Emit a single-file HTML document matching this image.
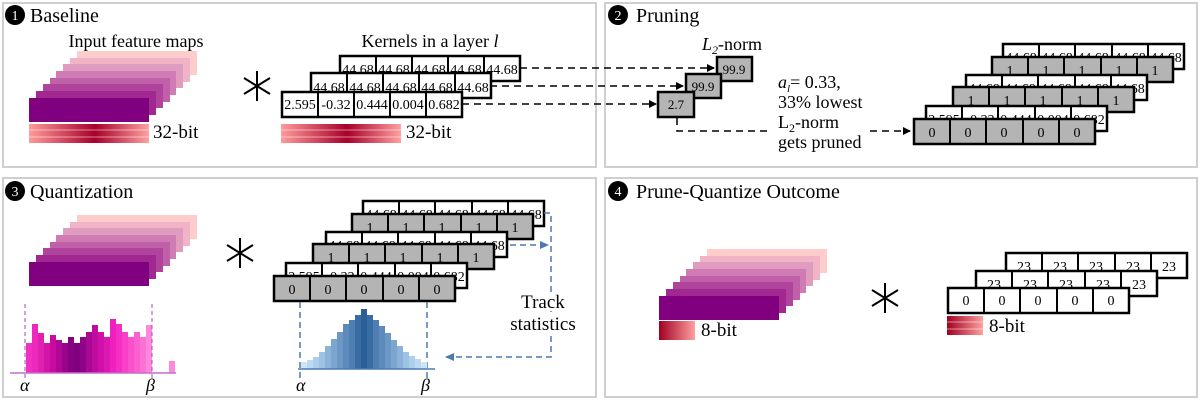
<!DOCTYPE html>
<html><head><meta charset="utf-8"><style>
html,body{margin:0;padding:0;background:#fff;}
svg{display:block;font-family:"Liberation Serif",serif;}
</style></head><body>
<svg width="1200" height="400" viewBox="0 0 1200 400" xmlns="http://www.w3.org/2000/svg">
<defs>
<linearGradient id="g32" x1="0" x2="1"><stop offset="0" stop-color="#ff9a9a"/><stop offset="0.55" stop-color="#a8002a"/><stop offset="1" stop-color="#ffa0a0"/></linearGradient>
<linearGradient id="g8" x1="0" x2="1"><stop offset="0" stop-color="#a00020"/><stop offset="1" stop-color="#ffa0a0"/></linearGradient>
<marker id="ah" markerWidth="8" markerHeight="8" refX="7" refY="4" orient="auto" markerUnits="userSpaceOnUse"><path d="M0,0 L8,4 L0,8 z" fill="#000"/></marker>
<marker id="ahb" markerWidth="9" markerHeight="8" refX="8" refY="4" orient="auto" markerUnits="userSpaceOnUse"><path d="M0,0 L9,4 L0,8 z" fill="#4a7ab0"/></marker>
</defs>

<!-- panels -->
<g fill="none" stroke="#cfcfcf" stroke-width="2">
<rect x="3" y="3" width="593" height="164"/>
<rect x="605" y="3" width="592" height="164"/>
<rect x="3" y="178" width="593" height="219"/>
<rect x="605" y="178" width="592" height="219"/>
</g>
<g font-size="20">
<circle cx="15" cy="15" r="10"/><text x="15" y="20" fill="#fff" font-size="14" text-anchor="middle">1</text><text x="30" y="22">Baseline</text>
<circle cx="618" cy="15" r="10"/><text x="618" y="20" fill="#fff" font-size="14" text-anchor="middle">2</text><text x="636" y="22">Pruning</text>
<circle cx="15" cy="191" r="10"/><text x="15" y="196" fill="#fff" font-size="14" text-anchor="middle">3</text><text x="30" y="198">Quantization</text>
<circle cx="618" cy="191" r="10"/><text x="618" y="196" fill="#fff" font-size="14" text-anchor="middle">4</text><text x="636" y="198">Prune-Quantize Outcome</text>
</g>

<!-- Panel 1 -->
<text x="136" y="47" font-size="18" text-anchor="middle">Input feature maps</text>
<text x="430" y="47" font-size="18" text-anchor="middle">Kernels in a layer <tspan font-style="italic">l</tspan></text>
<g>
<rect x="77" y="51" width="120" height="24" fill="#ffcccc"/>
<rect x="70" y="58" width="120" height="24" fill="#f0b4c6"/>
<rect x="63" y="64" width="120" height="24" fill="#e09cbe"/>
<rect x="56" y="71" width="120" height="24" fill="#d07cb4"/>
<rect x="50" y="78" width="120" height="24" fill="#c060a8"/>
<rect x="43" y="84" width="120" height="24" fill="#b0449c"/>
<rect x="36" y="91" width="120" height="24" fill="#a02890"/>
<rect x="29" y="98" width="120" height="24" fill="#800080"/>
</g>
<rect x="29" y="124" width="120" height="19" fill="url(#g32)"/>
<g stroke="#fff" stroke-opacity="0.5" stroke-width="1"><line x1="29" y1="130" x2="149" y2="130"/><line x1="29" y1="137" x2="149" y2="137"/></g>
<text x="153" y="138" font-size="19">32-bit</text>
<g stroke="#000" stroke-width="2"><line x1="257" y1="71" x2="257" y2="101"/><line x1="244" y1="78" x2="270" y2="94"/><line x1="244" y1="94" x2="270" y2="78"/></g>
<g stroke="#000" stroke-width="1.5" stroke-dasharray="7,5" fill="none">
<line x1="520" y1="68" x2="714" y2="68" marker-end="url(#ah)"/>
<line x1="490" y1="86" x2="683" y2="86" marker-end="url(#ah)"/>
<line x1="462" y1="104" x2="656" y2="104" marker-end="url(#ah)"/>
</g>
<g font-size="14" text-anchor="middle">
<g><rect x="340" y="56" width="180" height="25" fill="#fff" stroke="#000" stroke-width="2.5"/><path d="M376 56v25M412 56v25M448 56v25M484 56v25" stroke="#000" stroke-width="2"/><text x="358" y="74">44.68</text><text x="394" y="74">44.68</text><text x="430" y="74">44.68</text><text x="466" y="74">44.68</text><text x="502" y="74">44.68</text></g>
<g><rect x="311" y="73" width="180" height="25" fill="#fff" stroke="#000" stroke-width="2.5"/><path d="M347 73v25M383 73v25M419 73v25M455 73v25" stroke="#000" stroke-width="2"/><text x="329" y="92">44.68</text><text x="365" y="92">44.68</text><text x="401" y="92">44.68</text><text x="437" y="92">44.68</text><text x="473" y="92">44.68</text></g>
<g><rect x="282" y="92" width="180" height="25" fill="#fff" stroke="#000" stroke-width="2.5"/><path d="M318 92v25M354 92v25M390 92v25M426 92v25" stroke="#000" stroke-width="2"/><text x="300" y="109">2.595</text><text x="336" y="109">-0.32</text><text x="372" y="109">0.444</text><text x="408" y="109">0.004</text><text x="444" y="109">0.682</text></g>
</g>
<rect x="281" y="124" width="120" height="19" fill="url(#g32)"/>
<g stroke="#fff" stroke-opacity="0.5" stroke-width="1"><line x1="281" y1="130" x2="401" y2="130"/><line x1="281" y1="137" x2="401" y2="137"/></g>
<text x="406" y="138" font-size="19">32-bit</text>

<!-- Panel 2 -->
<text x="732" y="50" font-size="18" text-anchor="middle"><tspan font-style="italic">L</tspan><tspan font-size="12" dy="4" font-style="italic">2</tspan><tspan dy="-4">-norm</tspan></text>
<g font-size="13" text-anchor="middle" stroke-width="2.5">
<rect x="717" y="57" width="35" height="24" fill="#b4b4b4" stroke="#000"/><text x="734" y="74">99.9</text>
<rect x="686" y="74" width="35" height="24" fill="#b4b4b4" stroke="#000"/><text x="703" y="91">99.9</text>
<rect x="658" y="92" width="36" height="25" fill="#b4b4b4" stroke="#000"/><text x="676" y="109">2.7</text>
</g>
<g stroke="#000" stroke-width="1.5" stroke-dasharray="7,5" fill="none">
<path d="M677 118 V131 H770"/>
<line x1="870" y1="131" x2="910" y2="131" marker-end="url(#ah)"/>
</g>
<g font-size="18">
<text x="778" y="88"><tspan font-style="italic">a</tspan><tspan font-style="italic" font-size="11" dy="4">l</tspan><tspan dy="-4">= 0.33,</tspan></text>
<text x="778" y="108">33% lowest</text>
<text x="778" y="128">L<tspan font-size="12" dy="4">2</tspan><tspan dy="-4">-norm</tspan></text>
<text x="778" y="148">gets pruned</text>
</g>

<g font-size="14" text-anchor="middle">
<g><rect x="1003" y="44" width="181" height="25" fill="#fff" stroke="#000" stroke-width="2.5"/><path d="M1039 44v25M1075 44v25M1112 44v25M1148 44v25" stroke="#000" stroke-width="2"/><text x="1021" y="62">44.68</text><text x="1057" y="62">44.68</text><text x="1093" y="62">44.68</text><text x="1130" y="62">44.68</text><text x="1166" y="62">44.68</text></g>
<g><rect x="992" y="57" width="181" height="25" fill="#b4b4b4" stroke="#000" stroke-width="2.5"/><path d="M1028 57v25M1064 57v25M1101 57v25M1137 57v25" stroke="#000" stroke-width="2"/><text x="1010" y="75">1</text><text x="1046" y="75">1</text><text x="1082" y="75">1</text><text x="1119" y="75">1</text><text x="1155" y="75">1</text></g>
<g><rect x="966" y="75" width="181" height="25" fill="#fff" stroke="#000" stroke-width="2.5"/><path d="M1002 75v25M1038 75v25M1075 75v25M1111 75v25" stroke="#000" stroke-width="2"/><text x="984" y="93">44.68</text><text x="1020" y="93">44.68</text><text x="1056" y="93">44.68</text><text x="1093" y="93">44.68</text><text x="1129" y="93">44.68</text></g>
<g><rect x="953" y="87" width="181" height="25" fill="#b4b4b4" stroke="#000" stroke-width="2.5"/><path d="M989 87v25M1025 87v25M1062 87v25M1098 87v25" stroke="#000" stroke-width="2"/><text x="971" y="105">1</text><text x="1007" y="105">1</text><text x="1043" y="105">1</text><text x="1080" y="105">1</text><text x="1116" y="105">1</text></g>
<g><rect x="926" y="106" width="181" height="25" fill="#fff" stroke="#000" stroke-width="2.5"/><path d="M962 106v25M998 106v25M1035 106v25M1071 106v25" stroke="#000" stroke-width="2"/><text x="944" y="124">2.595</text><text x="980" y="124">-0.32</text><text x="1016" y="124">0.444</text><text x="1053" y="124">0.004</text><text x="1089" y="124">0.682</text></g>
<g><rect x="914" y="119" width="181" height="25" fill="#b4b4b4" stroke="#000" stroke-width="2.5"/><path d="M950 119v25M986 119v25M1023 119v25M1059 119v25" stroke="#000" stroke-width="2"/><text x="932" y="137">0</text><text x="968" y="137">0</text><text x="1004" y="137">0</text><text x="1041" y="137">0</text><text x="1077" y="137">0</text></g>
</g>

<!-- Panel 3 -->
<g transform="translate(0,164)">
<rect x="77" y="51" width="120" height="24" fill="#ffcccc"/>
<rect x="70" y="58" width="120" height="24" fill="#f0b4c6"/>
<rect x="63" y="64" width="120" height="24" fill="#e09cbe"/>
<rect x="56" y="71" width="120" height="24" fill="#d07cb4"/>
<rect x="50" y="78" width="120" height="24" fill="#c060a8"/>
<rect x="43" y="84" width="120" height="24" fill="#b0449c"/>
<rect x="36" y="91" width="120" height="24" fill="#a02890"/>
<rect x="29" y="98" width="120" height="24" fill="#800080"/>
</g>
<g>
<rect x="26" y="343" width="6" height="30" fill="#f030c0"/>
<rect x="32" y="324" width="6" height="49" fill="#ee28bc"/>
<rect x="38" y="333" width="6" height="40" fill="#e020b0"/>
<rect x="44" y="343" width="6" height="30" fill="#d414a8"/>
<rect x="50" y="335" width="6" height="38" fill="#c80aa0"/>
<rect x="56" y="340" width="6" height="33" fill="#b00896"/>
<rect x="62" y="343" width="6" height="30" fill="#9a048c"/>
<rect x="68" y="337" width="6" height="36" fill="#860082"/>
<rect x="74" y="343" width="6" height="30" fill="#800080"/>
<rect x="80" y="337" width="6" height="36" fill="#90048a"/>
<rect x="86" y="332" width="6" height="41" fill="#a80894"/>
<rect x="92" y="325" width="6" height="48" fill="#c00c9e"/>
<rect x="98" y="332" width="6" height="41" fill="#d010a8"/>
<rect x="104" y="337" width="6" height="36" fill="#dc18b0"/>
<rect x="110" y="319" width="6" height="54" fill="#f020c0"/>
<rect x="116" y="324" width="6" height="49" fill="#f430c4"/>
<rect x="122" y="332" width="6" height="41" fill="#f840c8"/>
<rect x="128" y="337" width="6" height="36" fill="#fa50cc"/>
<rect x="134" y="332" width="6" height="41" fill="#fc60d0"/>
<rect x="140" y="337" width="6" height="36" fill="#fd70d4"/>
<rect x="146" y="325" width="6" height="48" fill="#ff88dc"/>
<rect x="169" y="361" width="6" height="12" fill="#ff88dc"/>
<line x1="10" y1="373" x2="176" y2="373" stroke="#c070c8" stroke-width="1.5"/>
<g stroke="#b040c0" stroke-width="1" stroke-dasharray="4,3"><line x1="25" y1="304" x2="25" y2="378"/><line x1="152" y1="304" x2="152" y2="378"/></g>
<text x="20" y="391" font-size="18" font-style="italic">α</text>
<text x="146" y="391" font-size="18" font-style="italic">β</text>
</g>
<g stroke="#000" stroke-width="2"><line x1="240" y1="238" x2="240" y2="268"/><line x1="227" y1="245" x2="253" y2="261"/><line x1="227" y1="261" x2="253" y2="245"/></g>
<g transform="translate(-640,157)" font-size="14" text-anchor="middle">
<g><rect x="1003" y="44" width="181" height="25" fill="#fff" stroke="#000" stroke-width="2.5"/><path d="M1039 44v25M1075 44v25M1112 44v25M1148 44v25" stroke="#000" stroke-width="2"/><text x="1021" y="62">44.68</text><text x="1057" y="62">44.68</text><text x="1093" y="62">44.68</text><text x="1130" y="62">44.68</text><text x="1166" y="62">44.68</text></g>
<g><rect x="992" y="57" width="181" height="25" fill="#b4b4b4" stroke="#000" stroke-width="2.5"/><path d="M1028 57v25M1064 57v25M1101 57v25M1137 57v25" stroke="#000" stroke-width="2"/><text x="1010" y="75">1</text><text x="1046" y="75">1</text><text x="1082" y="75">1</text><text x="1119" y="75">1</text><text x="1155" y="75">1</text></g>
<g><rect x="966" y="75" width="181" height="25" fill="#fff" stroke="#000" stroke-width="2.5"/><path d="M1002 75v25M1038 75v25M1075 75v25M1111 75v25" stroke="#000" stroke-width="2"/><text x="984" y="93">44.68</text><text x="1020" y="93">44.68</text><text x="1056" y="93">44.68</text><text x="1093" y="93">44.68</text><text x="1129" y="93">44.68</text></g>
<g><rect x="953" y="87" width="181" height="25" fill="#b4b4b4" stroke="#000" stroke-width="2.5"/><path d="M989 87v25M1025 87v25M1062 87v25M1098 87v25" stroke="#000" stroke-width="2"/><text x="971" y="105">1</text><text x="1007" y="105">1</text><text x="1043" y="105">1</text><text x="1080" y="105">1</text><text x="1116" y="105">1</text></g>
<g><rect x="926" y="106" width="181" height="25" fill="#fff" stroke="#000" stroke-width="2.5"/><path d="M962 106v25M998 106v25M1035 106v25M1071 106v25" stroke="#000" stroke-width="2"/><text x="944" y="124">2.595</text><text x="980" y="124">-0.32</text><text x="1016" y="124">0.444</text><text x="1053" y="124">0.004</text><text x="1089" y="124">0.682</text></g>
<g><rect x="914" y="119" width="181" height="25" fill="#b4b4b4" stroke="#000" stroke-width="2.5"/><path d="M950 119v25M986 119v25M1023 119v25M1059 119v25" stroke="#000" stroke-width="2"/><text x="932" y="137">0</text><text x="968" y="137">0</text><text x="1004" y="137">0</text><text x="1041" y="137">0</text><text x="1077" y="137">0</text></g>
</g>
<g stroke="#4a7ab0" stroke-width="1.5" stroke-dasharray="6,4" fill="none">
<line x1="510" y1="245" x2="548" y2="245" marker-end="url(#ahb)"/>
<path d="M544 213 H551 V357 H446" marker-end="url(#ahb)"/>
<line x1="300" y1="302" x2="300" y2="378"/>
<line x1="427" y1="302" x2="427" y2="378"/>
</g>
<text x="543" y="308" font-size="19" text-anchor="middle" fill="#fff" stroke="#fff" stroke-width="6">Track</text>
<text x="543" y="330" font-size="19" text-anchor="middle" fill="#fff" stroke="#fff" stroke-width="6">statistics</text>
<text x="543" y="308" font-size="19" text-anchor="middle">Track</text>
<text x="543" y="330" font-size="19" text-anchor="middle">statistics</text>
<g>
<rect x="301" y="362" width="6" height="7" fill="#cce6f8"/>
<rect x="307" y="360" width="6" height="9" fill="#bcdaf2"/>
<rect x="313" y="357" width="6" height="12" fill="#acd0ec"/>
<rect x="319" y="352" width="6" height="17" fill="#9cc2e4"/>
<rect x="325" y="346" width="6" height="23" fill="#8cb4da"/>
<rect x="331" y="339" width="6" height="30" fill="#7ca6d0"/>
<rect x="337" y="332" width="6" height="37" fill="#6c98c6"/>
<rect x="343" y="324" width="6" height="45" fill="#5c8abc"/>
<rect x="349" y="320" width="6" height="49" fill="#4e7eb2"/>
<rect x="355" y="315" width="6" height="54" fill="#3a6ca4"/>
<rect x="361" y="309" width="6" height="60" fill="#2c5f98"/>
<rect x="367" y="315" width="6" height="54" fill="#3a6ca4"/>
<rect x="373" y="320" width="6" height="49" fill="#4e7eb2"/>
<rect x="379" y="326" width="6" height="43" fill="#5c8abc"/>
<rect x="385" y="333" width="6" height="36" fill="#6c98c6"/>
<rect x="391" y="340" width="6" height="29" fill="#7ca6d0"/>
<rect x="397" y="346" width="6" height="23" fill="#8cb4da"/>
<rect x="403" y="352" width="6" height="17" fill="#9cc2e4"/>
<rect x="409" y="356" width="6" height="13" fill="#acd0ec"/>
<rect x="415" y="359" width="6" height="10" fill="#bcdaf2"/>
<rect x="421" y="362" width="6" height="7" fill="#cce6f8"/>
<line x1="298" y1="369" x2="435" y2="369" stroke="#4a7ab0" stroke-width="1.5"/>
<text x="296" y="391" font-size="18" font-style="italic">α</text>
<text x="421" y="391" font-size="18" font-style="italic">β</text>
</g>

<!-- Panel 4 -->
<g transform="translate(630,198)">
<rect x="77" y="51" width="120" height="24" fill="#ffcccc"/>
<rect x="70" y="58" width="120" height="24" fill="#f0b4c6"/>
<rect x="63" y="64" width="120" height="24" fill="#e09cbe"/>
<rect x="56" y="71" width="120" height="24" fill="#d07cb4"/>
<rect x="50" y="78" width="120" height="24" fill="#c060a8"/>
<rect x="43" y="84" width="120" height="24" fill="#b0449c"/>
<rect x="36" y="91" width="120" height="24" fill="#a02890"/>
<rect x="29" y="98" width="120" height="24" fill="#800080"/>
</g>
<rect x="659" y="321" width="36" height="19" fill="url(#g8)"/>
<text x="701" y="336" font-size="19">8-bit</text>
<g stroke="#000" stroke-width="2"><line x1="885" y1="283" x2="885" y2="313"/><line x1="872" y1="290" x2="898" y2="306"/><line x1="872" y1="306" x2="898" y2="290"/></g>
<g font-size="14" text-anchor="middle">
<g><rect x="1006" y="253" width="181" height="25" fill="#fff" stroke="#000" stroke-width="2.5"/><path d="M1042 253v25M1078 253v25M1115 253v25M1151 253v25" stroke="#000" stroke-width="2"/><text x="1024" y="271">23</text><text x="1060" y="271">23</text><text x="1096" y="271">23</text><text x="1133" y="271">23</text><text x="1169" y="271">23</text></g>
<g><rect x="976" y="271" width="181" height="25" fill="#fff" stroke="#000" stroke-width="2.5"/><path d="M1012 271v25M1048 271v25M1085 271v25M1121 271v25" stroke="#000" stroke-width="2"/><text x="994" y="289">23</text><text x="1030" y="289">23</text><text x="1066" y="289">23</text><text x="1103" y="289">23</text><text x="1139" y="289">23</text></g>
<g><rect x="948" y="288" width="181" height="25" fill="#fff" stroke="#000" stroke-width="2.5"/><path d="M984 288v25M1020 288v25M1057 288v25M1093 288v25" stroke="#000" stroke-width="2"/><text x="966" y="305">0</text><text x="1002" y="305">0</text><text x="1038" y="305">0</text><text x="1075" y="305">0</text><text x="1111" y="305">0</text></g>
</g>
<rect x="947" y="316" width="36" height="19" fill="url(#g8)"/>
<g stroke="#fff" stroke-opacity="0.5" stroke-width="1"><line x1="947" y1="322" x2="983" y2="322"/><line x1="947" y1="329" x2="983" y2="329"/></g>
<text x="989" y="332" font-size="19">8-bit</text>
</svg>
</body></html>
